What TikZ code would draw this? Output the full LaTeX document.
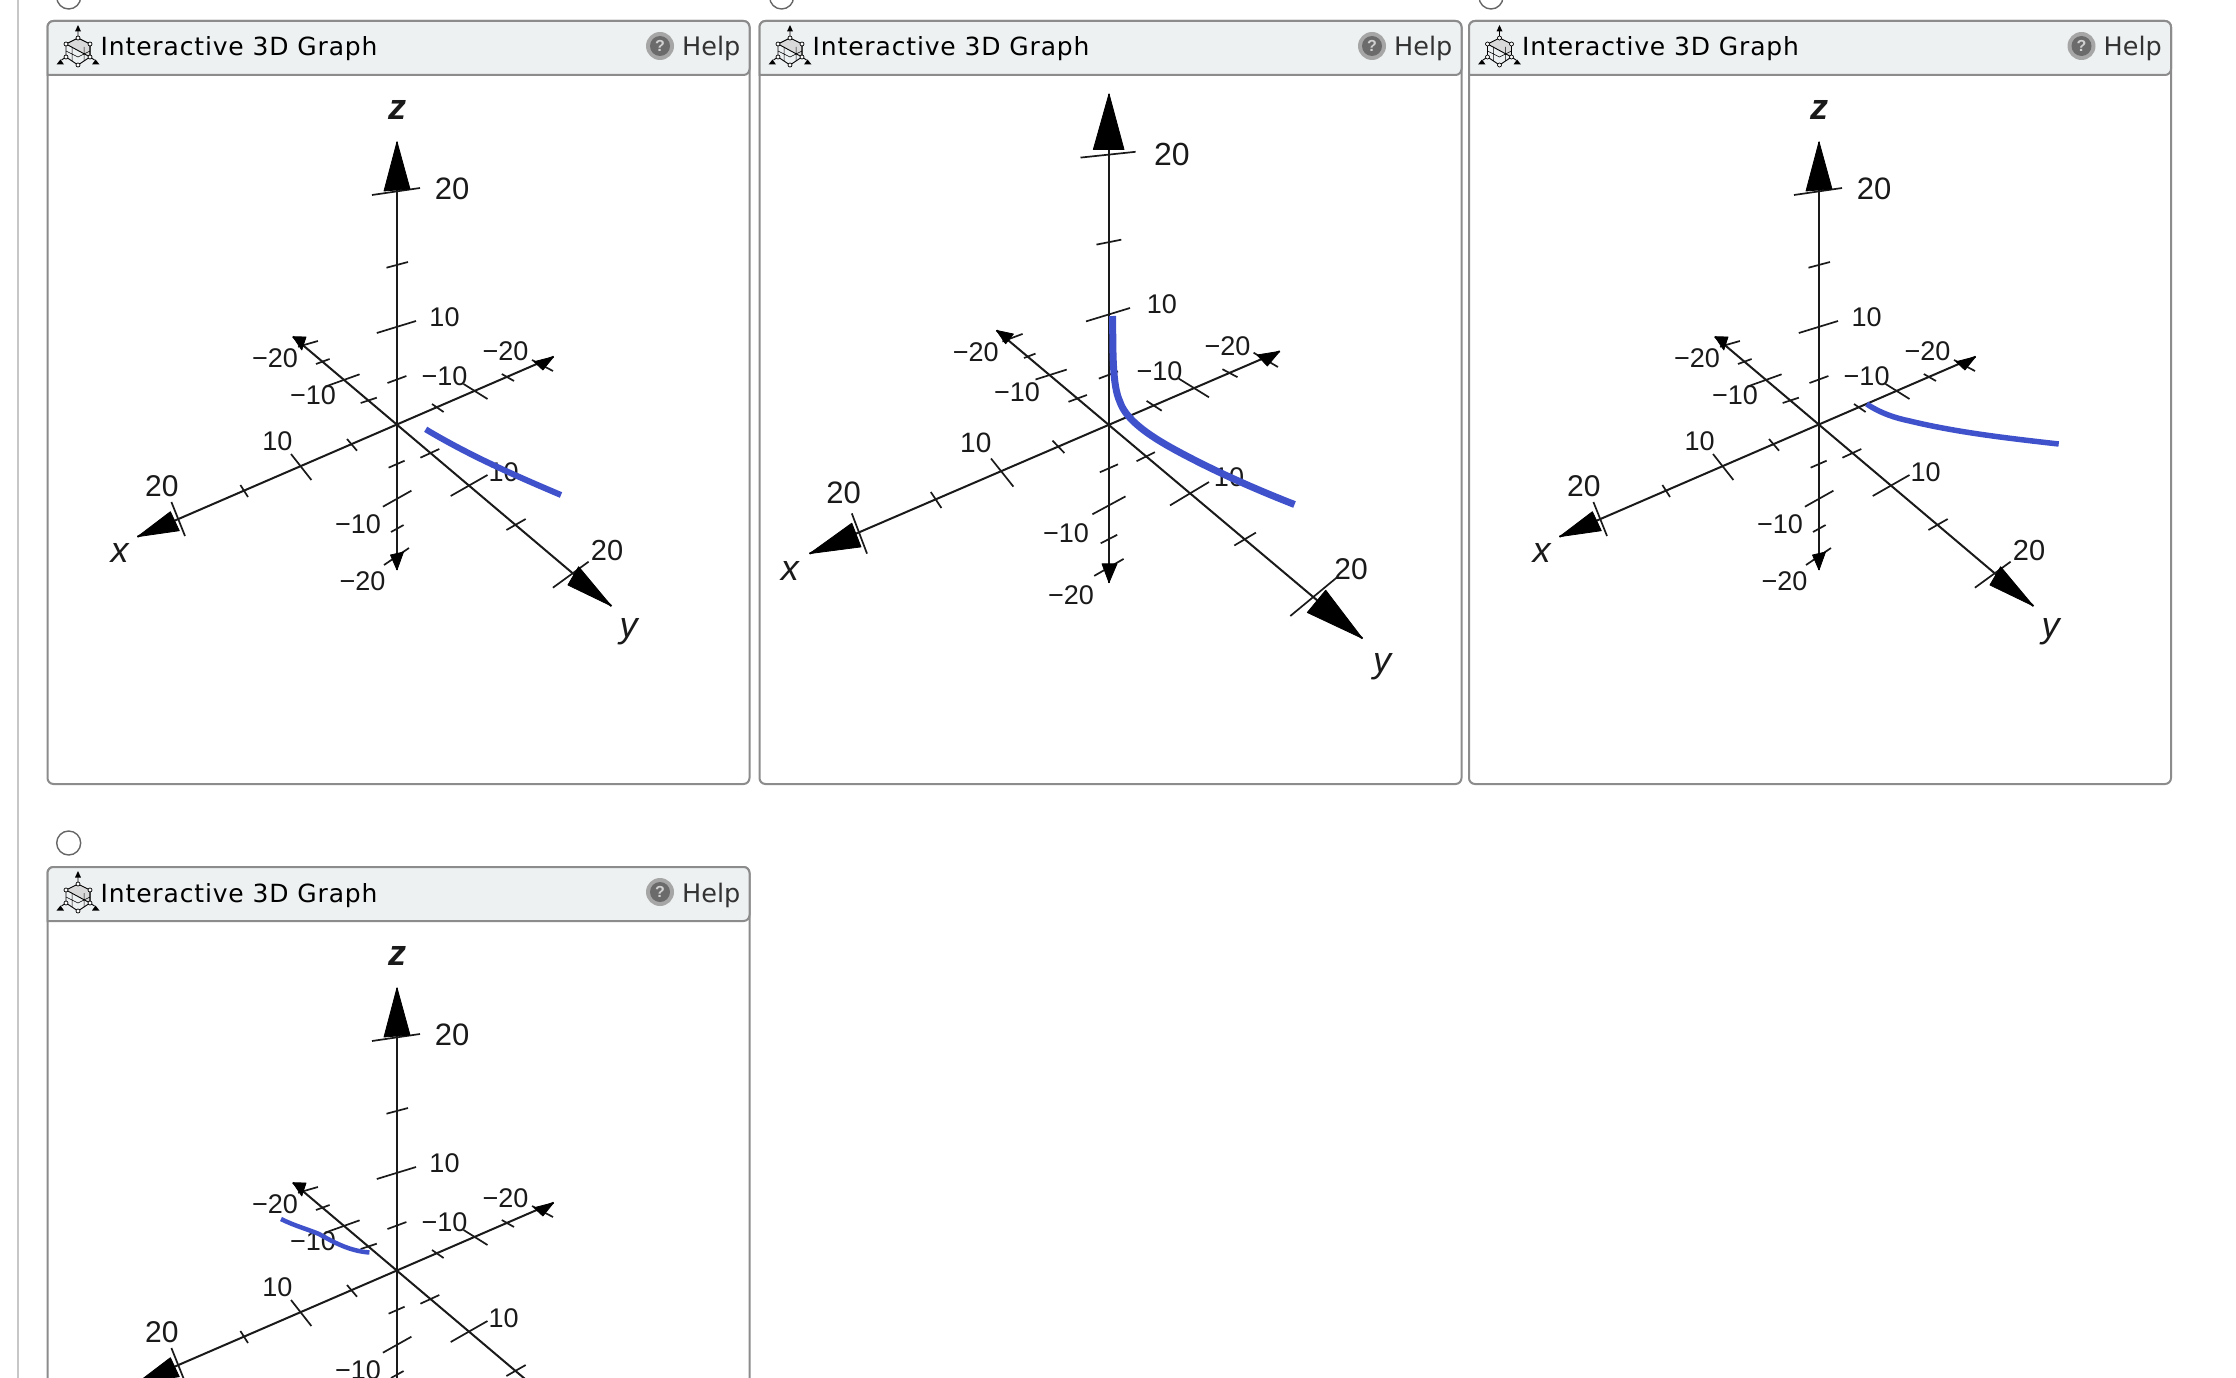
\documentclass[tikz,border=0pt]{standalone}
\usepackage{fontspec}
\setmainfont{Liberation Sans}
\newfontfamily\headfont{DejaVu Sans}
\newfontfamily\titlefont[LetterSpace=3.4]{DejaVu Sans}

\definecolor{frameink}{HTML}{8C8C8C}
\definecolor{headfill}{HTML}{EEF1F2}
\definecolor{axisink}{HTML}{1A1A1A}
\definecolor{curveblue}{HTML}{3F52CC}

\tikzset{
  panelframe/.style={draw=frameink,line width=2pt},
  radiobtn/.style={circle,draw=black!60,line width=1.4pt,fill=white,minimum size=24pt,inner sep=0pt},
  axisline/.style={draw=axisink,line width=2pt},
  axtick/.style={draw=axisink,line width=1.7pt},
  axhead/.style={fill=black,draw=black,line width=0.8pt,line join=round},
  numlab/.style={font=\fontsize{#1}{#1}\selectfont,text=axisink,inner sep=0pt},
  axletter/.style={font=\fontsize{36}{36}\selectfont\itshape,text=axisink,inner sep=0pt},
  curve/.style={draw=curveblue,line width=#1,line join=round},
  iconline/.style={draw=black,line width=0.9pt},
  icondot/.style={circle,draw=black,line width=0.7pt,fill=white,inner sep=0pt,minimum size=4pt},
}

% frame, header bar, icon and help of one panel
\newcommand{\graphpanel}[4]{
  \begin{scope}[shift={(#2,#3)}]
    \draw[panelframe,fill=white,rounded corners=6pt] (0,0) rectangle (702,#4);
    \draw[panelframe,fill=headfill] [rounded corners=6pt] (0,54) -- (0,0) -- (702,0) -- (702,54) [sharp corners] -- cycle;
    % cube icon
    \coordinate (#1c) at (30.5,29);
    \foreach \vx/\vy/\vn in {30.5/17/a,42.5/23/b,42.5/36/c,30.5/44/d,18.5/36/e,18.5/23/f}{
      \coordinate (#1\vn) at (\vx,\vy);
    }
    \fill[black!15] (#1a) -- (#1b) -- (#1c) -- (#1f) -- cycle;
    \draw[iconline] (#1a) -- (#1b) -- (#1c) -- (#1d) -- (#1e) -- (#1f) -- cycle (#1f) -- (#1c) -- (#1d);
    \draw[iconline,line width=0.5pt] (#1b) -- (#1c) (24.5,26) -- (24.5,40) (36.5,26) -- (36.5,40) (18.5,30) -- (30.5,36) -- (42.5,30);
    \draw[iconline] (#1b) -- (42.5,36) (#1a) -- (30.5,10) (#1e) -- (14,39) (42.5,36) -- (47,39);
    \fill (30.5,4) -- (27.5,10.5) -- (33.5,10.5) -- cycle;
    \fill (13,38.5) -- (9,43.5) -- (16.5,43.5) -- cycle;
    \fill (48,38.5) -- (44.5,43.5) -- (52,43.5) -- cycle;
    \foreach \vn in {a,b,c,d,e,f}{\node[icondot] (#1dot\vn) at (#1\vn) {};}
    % header texts
    \node[anchor=base west,inner sep=0pt,font=\titlefont\fontsize{25}{25}\selectfont] (#1title) at (53,35) {Interactive 3D Graph};
    \node[anchor=base east,inner sep=0pt,text=black!80,font=\headfont\fontsize{25.5}{25.5}\selectfont] (#1help) at (693,35) {Help};
    \node[circle,fill=black!35,minimum size=28pt,inner sep=0pt] (#1ring) at (612.5,25) {};
    \node[circle,fill=black!58,minimum size=20pt,inner sep=0pt,text=black!18,font=\bfseries\fontsize{16}{16}\selectfont] (#1ask) at (#1ring) {?};
  \end{scope}
}

% the axes seen from the lower view (panels 1, 3, 4)
\newcommand{\loweraxes}[1]{
  \coordinate (#1ztop) at (397,141.7);
  \coordinate (#1zbot) at (397,570);
  \coordinate (#1xend) at (137.5,536.7);
  \coordinate (#1xneg) at (553.6,356.7);
  \coordinate (#1yend) at (611.4,606);
  \coordinate (#1yneg) at (292.9,336.7);
  \draw[axisline] (#1ztop) -- (#1zbot);
  \draw[axisline] (#1xend) -- (#1xneg);
  \draw[axisline] (#1yend) -- (#1yneg);
  \foreach \ax/\ay/\bx/\by in {
    372/195/420/188, 386.5/267.7/408/262, 376.8/333/416/321, 387.5/383/406.4/376,
    388.6/467.7/404.6/460.7, 382.9/506.7/411.4/490.7, 391/532/403.6/525, 384/565/409/548,
    171.4/502/185/536, 240.4/485/248/497, 291/454/311.4/480, 347/439/357/450.7,
    432/404/443.6/412, 463.6/384/487.5/399, 501.8/374/514/381, 532/360/553/371,
    552.9/587.7/588.6/561.7, 506.4/530/525.7/519, 450.7/496/487.5/475, 420.4/457.7/439.3/449,
    360.7/403/376.8/397.7, 325/386.7/359.6/374.3, 316/364/329.6/359, 298/346.7/317.9/341}{
    \draw[axtick] (\ax,\ay) -- (\bx,\by);
  }
  \filldraw[axhead] (#1ztop) -- (384,191) -- (410,189) -- cycle;
  \filldraw[axhead] (#1zbot) -- (390.5,555) -- (403.5,552) -- cycle;
  \filldraw[axhead] (#1xend) -- (170.4,511.7) -- (179.3,530.7) -- cycle;
  \filldraw[axhead] (#1xneg) -- (534,361.7) -- (542.9,370) -- cycle;
  \filldraw[axhead] (#1yend) -- (578.6,566.7) -- (567.9,585) -- cycle;
  \filldraw[axhead] (#1yneg) -- (306,337) -- (301.8,350) -- cycle;
  \foreach \lx/\ly/\sz/\txt [count=\n] in {
    452/189/31/20, 444.5/317.5/27/10, 505.4/351.7/27/−20, 444.6/376/27/−10,
    275/358/27/−20, 313/395/27/−10, 277.5/441/27/10, 161.8/486/30/20,
    503.6/472.5/27/10, 607/551/29/20, 357.9/524/27/−10, 362.5/581.5/27/−20}{
    \node[numlab=\sz] (#1lab\n) at (\lx,\ly) {\txt};
  }
  \node[axletter] (#1xname) at (119.6,552.5) {x};
  \node[axletter] (#1yname) at (628.6,632) {y};
  \node[axletter,font=\fontsize{36}{36}\selectfont\bfseries\itshape] (#1zname) at (397,110) {z};
}

% the axes seen closer (panel 2)
\newcommand{\closeaxes}[1]{
  \coordinate (#1ztop) at (1109,93.75);
  \coordinate (#1zbot) at (1109,582.6);
  \coordinate (#1xend) at (809.6,553.6);
  \coordinate (#1xneg) at (1279.7,351.3);
  \coordinate (#1yend) at (1362.4,638.4);
  \coordinate (#1yneg) at (996.5,330.4);
  \draw[axisline] (#1ztop) -- (#1zbot);
  \draw[axisline] (#1xend) -- (#1xneg);
  \draw[axisline] (#1yend) -- (#1yneg);
  \foreach \ax/\ay/\bx/\by in {
    1080.5/157.6/1135.6/151.8, 1096.5/244.6/1121.3/239.7, 1086/321.4/1130/308, 1098.8/378.6/1118/371.4,
    1099.8/472.3/1118/464.3, 1092.4/514.3/1125.5/496.4, 1100.7/543.3/1117.2/534.8, 1094.2/575.9/1123.6/558.9,
    851.8/513.4/867/553.6, 930.8/492/941.4/508, 991/458.5/1013.4/486.6, 1052.5/440.6/1064.4/453,
    1146.6/400.9/1161.7/410.7, 1178.7/378.6/1209/397.3, 1222.4/369.2/1237.5/377.2, 1253.6/352.7/1277.9/367,
    1290.3/616/1336.2/578, 1234.3/545.5/1255.9/532.6, 1170/505.4/1209/482, 1136.5/461.2/1154.9/452.2,
    1068.5/401.8/1086.9/395, 1035.5/379.5/1066.7/369.6, 1024/358/1035.5/353.6, 1002.4/341.5/1022.6/333.9}{
    \draw[axtick] (\ax,\ay) -- (\bx,\by);
  }
  \filldraw[axhead] (#1ztop) -- (1093.3,149.5) -- (1124,149.5) -- cycle;
  \filldraw[axhead] (#1zbot) -- (1102,563.8) -- (1117,563.8) -- cycle;
  \filldraw[axhead] (#1xend) -- (851.8,523.2) -- (861,546.9) -- cycle;
  \filldraw[axhead] (#1xneg) -- (1257,355) -- (1267.3,366) -- cycle;
  \filldraw[axhead] (#1yend) -- (1325.7,590.2) -- (1307.3,612.5) -- cycle;
  \filldraw[axhead] (#1yneg) -- (1013.4,334) -- (1005.6,343.8) -- cycle;
  \foreach \lx/\ly/\sz/\txt [count=\n] in {
    1171.8/154/32/20, 1161.8/304/27/10, 1227.4/346/27/−20, 1159.4/371.4/27/−10,
    975.8/352.7/27/−20, 1017/392/27/−10, 975.8/442.5/28/10, 843.6/493.3/31/20,
    1229/476.8/27/10, 1351/569/30/20, 1066/533.5/27/−10, 1071/595/27/−20}{
    \node[numlab=\sz] (#1lab\n) at (\lx,\ly) {\txt};
  }
  \node[axletter] (#1xname) at (789.8,571) {x};
  \node[axletter] (#1yname) at (1382,667) {y};
}

\begin{document}
\begin{tikzpicture}[x=1pt,y=-1pt]
  \useasboundingbox (0,0) rectangle (2236,1378);
  \fill[white] (0,0) rectangle (2236,1378);
  \clip (0,0) rectangle (2236,1378);

  \draw[draw=black!22,line width=2pt] (17.5,0) -- (17.5,1378);

  \node[radiobtn] (radioa) at (68.7,-3) {};
  \node[radiobtn] (radiob) at (781.6,-3) {};
  \node[radiobtn] (radioc) at (1491,-3) {};
  \node[radiobtn] (radiod) at (68.7,843) {};

  \graphpanel{pa}{47.5}{21}{763}
  \graphpanel{pb}{759.5}{21}{763}
  \graphpanel{pc}{1469}{21}{763}
  \graphpanel{pd}{47.5}{867}{600}

  \loweraxes{qa}
  \closeaxes{qb}
  \begin{scope}[shift={(1422,0)}]
    \loweraxes{qc}
  \end{scope}
  \begin{scope}[shift={(0,846)}]
    \loweraxes{qd}
  \end{scope}

  % the blue curves
  \draw[curve=6pt] (425.7,429.3) .. controls (445,441) and (470,454) .. (489,463) .. controls (512,474) and (535,484) .. (561,495);
  \draw[curve=7pt] (1112.6,316) .. controls (1113,350) and (1112,385) .. (1120,402) .. controls (1126,420) and (1150,436) .. (1173,448.7) .. controls (1210,469) and (1250,487) .. (1294.5,504.5);
  \draw[curve=5.5pt] (1866.7,404) .. controls (1880,413) and (1895,418) .. (1909.7,421) .. controls (1955,432) and (2005,438) .. (2058.7,444);
  \draw[curve=4.5pt] (281,1219) .. controls (295,1226) and (307,1229) .. (319,1234) .. controls (335,1243) and (350,1251) .. (369.4,1252.5);
\end{tikzpicture}
\end{document}
